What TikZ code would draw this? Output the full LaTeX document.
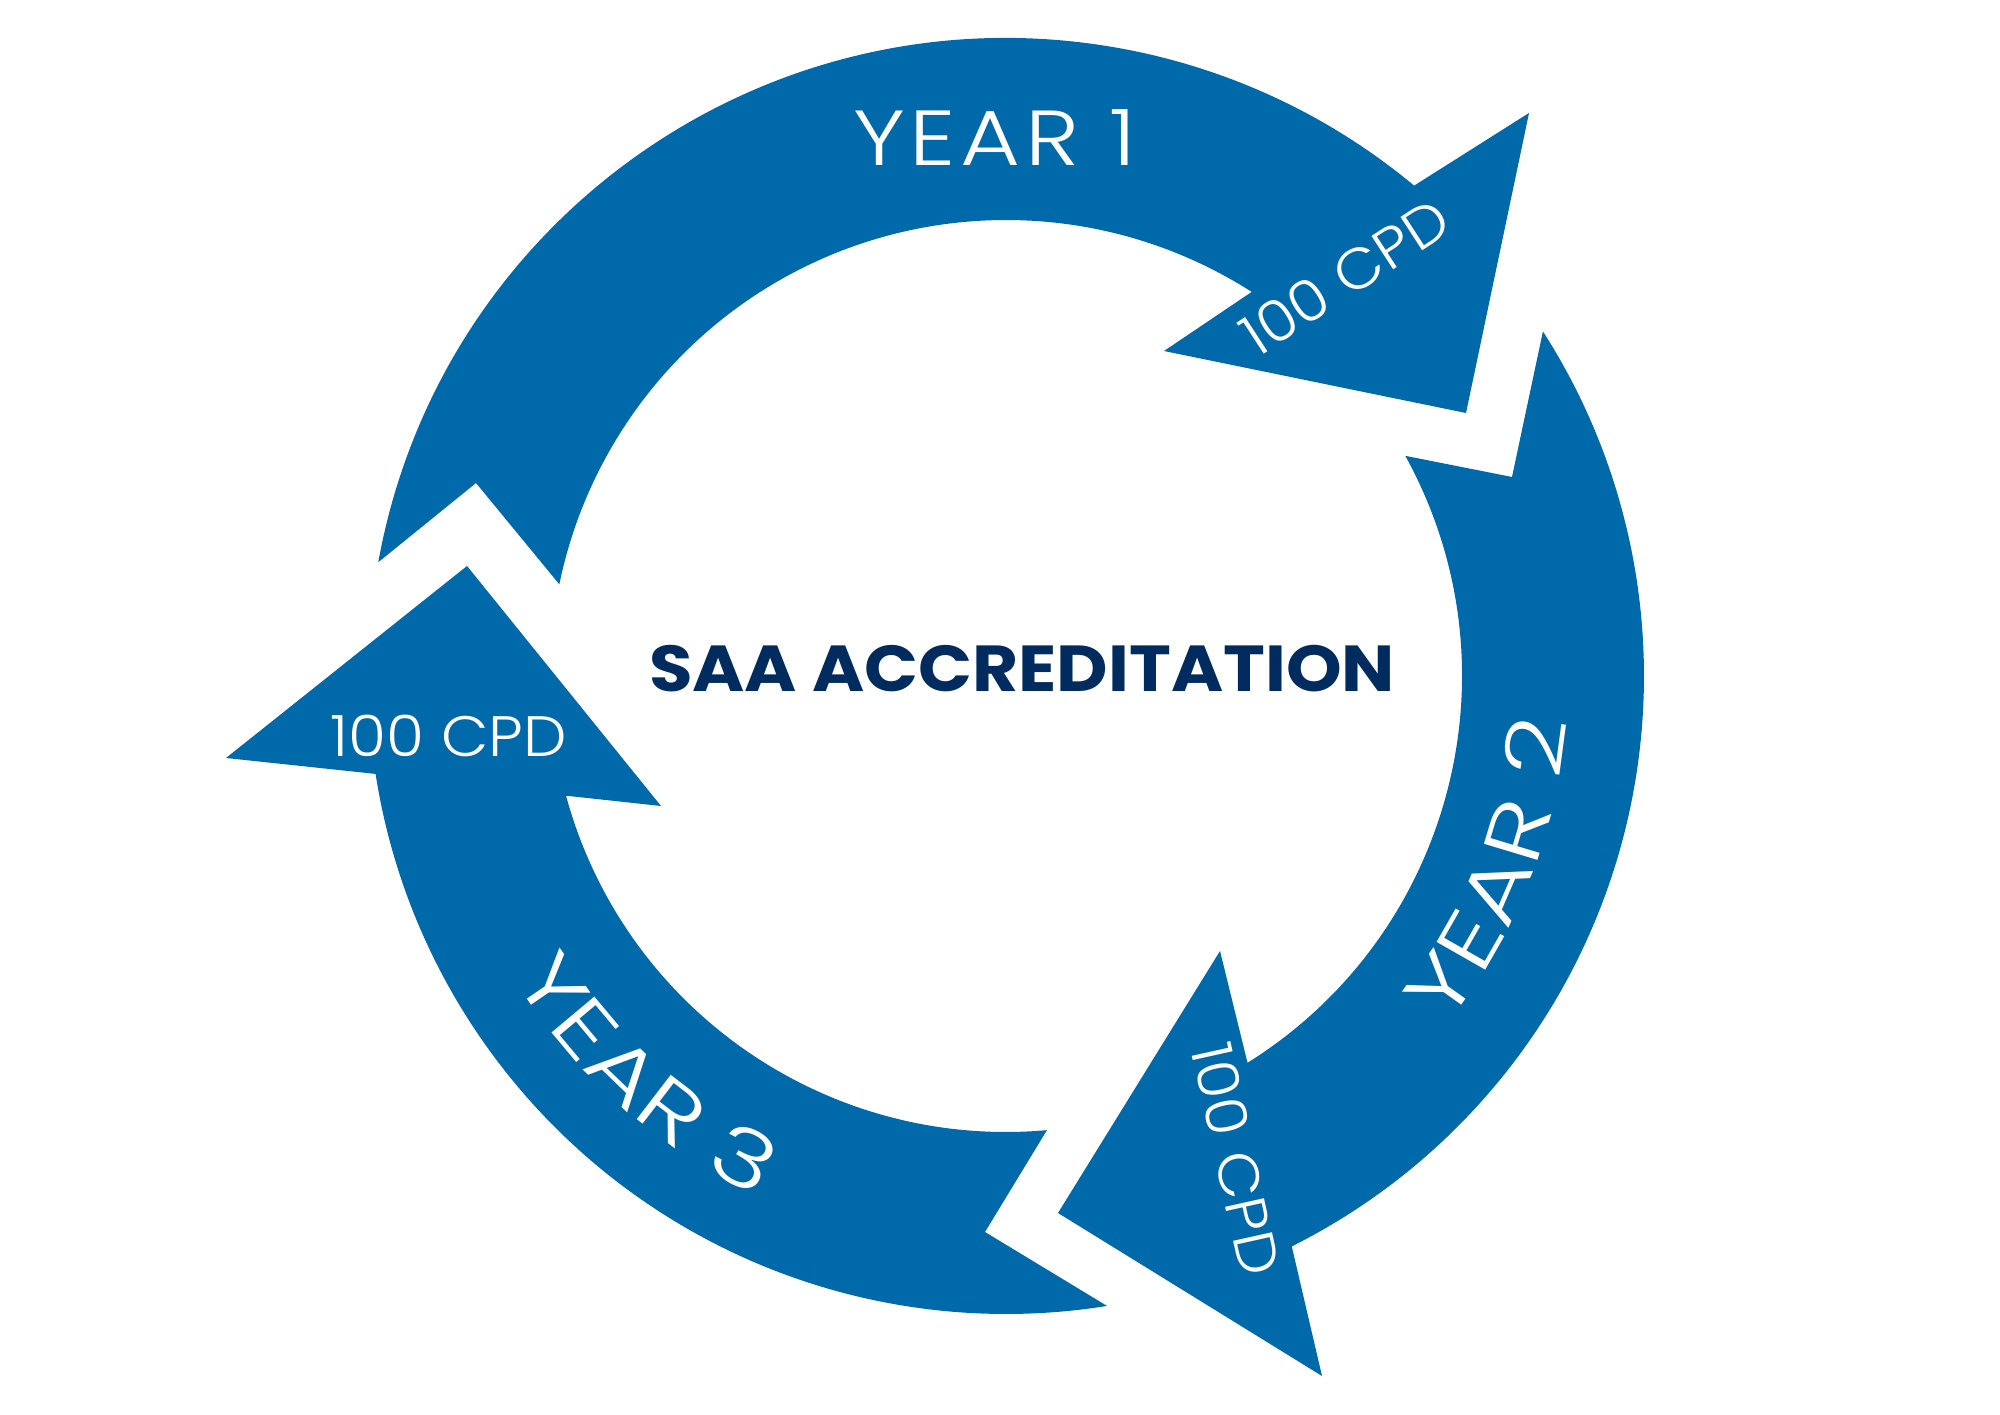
\documentclass[tikz,border=0pt]{standalone}
\usepackage{fontspec}
\usetikzlibrary{calc,decorations.text}
\newfontfamily\yearfam{Poppins Light}[FakeStretch=1.18,LetterSpace=6]
\newfontfamily\arcfam{Poppins Light}[FakeStretch=1.32]
\newfontfamily\cpdfam{Poppins Light}[FakeStretch=1.08]
\newfontfamily\heavyfont{Poppins}[UprightFont=* Bold,FakeStretch=1.09]
\definecolor{ringblue}{HTML}{0069AA}
\definecolor{navy}{HTML}{002B5E}
\newcommand{\yrfont}{\yearfam\fontsize{78}{78}\selectfont}
\newcommand{\arcfont}{\arcfam\fontsize{80}{80}\selectfont}
\newcommand{\cpdfont}{\cpdfam\fontsize{57}{57}\selectfont}
\begin{document}
\begin{tikzpicture}[x=1pt,y=1pt,
  ringpart/.style={fill=ringblue},
  yeartext/.style={text=white,font=\yrfont,inner sep=0pt},
  cpdtext/.style={text=white,font=\cpdfont,inner sep=0pt},
  titletext/.style={text=navy,font=\heavyfont\fontsize{65}{65}\selectfont,inner sep=0pt}]
\useasboundingbox (0,0) rectangle (2000,1414);
\coordinate (C) at (1006,738);
% arrow 1 (top)
\coordinate (N1) at (476,931);
\coordinate (W1o) at (1529,1301);
\coordinate (T1) at (1466,1001);
\coordinate (W1i) at (1164,1063);
% arrow 2 (right)
\coordinate (N2) at (1512,937);
\coordinate (W2o) at (1322,38);
\coordinate (T2) at (1058,201);
\coordinate (W2i) at (1220,463);
% arrow 3 (bottom-left)
\coordinate (N3) at (985,182);
\coordinate (W3o) at (226,656);
\coordinate (T3) at (467,848);
\coordinate (W3i) at (661,608);

\fill[ringpart] ($(C)+(169.73:638)$) arc[start angle=169.73, end angle=50.23, radius=638]
  -- (W1o) -- (T1) -- (W1i) -- ($(C)+(57.39:456)$) arc[start angle=57.39, end angle=168.40, radius=456]
  -- (N1) -- cycle;
\fill[ringpart] ($(C)+(32.69:638)$) arc[start angle=32.69, end angle=-63.39, radius=638]
  -- (W2o) -- (T2) -- (W2i) -- ($(C)+(-58.02:456)$) arc[start angle=-58.02, end angle=28.87, radius=456]
  -- (N2) -- cycle;
\fill[ringpart] ($(C)+(-80.89:638)$) arc[start angle=-80.89, end angle=-171.17, radius=638]
  -- (W3o) -- (T3) -- (W3i) -- ($(C)+(-164.78:456)$) arc[start angle=-164.78, end angle=-84.85, radius=456]
  -- (N3) -- cycle;

\node[yeartext,anchor=base] (y1) at (995,1248) {YEAR 1};
\path[decorate,decoration={text along path,text align=center,text color=white,
  text={|\arcfont|YEAR 2}}] ($(C)+(-46:562)$) arc[start angle=-46, end angle=3, radius=562];
\path[decorate,decoration={text along path,text align=center,text color=white,
  text={|\arcfont|YEAR 3}}] ($(C)+(-157:577)$) arc[start angle=-157, end angle=-107, radius=577];

\node[titletext,anchor=base] (title) at (1022,722) {SAA ACCREDITATION};
\node[cpdtext,anchor=base] (c3) at (449,657) {100 CPD};
\node[cpdtext,rotate=33] (c1) at (1345,1137) {100 CPD};
\node[cpdtext,rotate=-77.5] (c2) at (1236,255) {100 CPD};
\end{tikzpicture}
\end{document}
